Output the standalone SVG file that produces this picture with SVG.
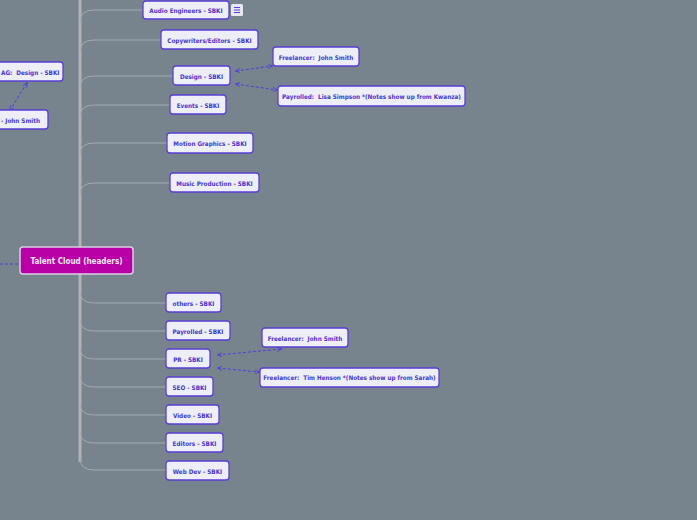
<svg xmlns="http://www.w3.org/2000/svg" width="697" height="520" viewBox="0 0 697 520">
<defs>
<style>
.n rect{fill:#eeeef6;stroke:#5a3fd6;stroke-width:1.3}
.n text{font-family:"DejaVu Sans Condensed","DejaVu Sans",sans-serif;font-stretch:condensed;font-size:6.3px;font-weight:bold;fill:#4736cc;text-anchor:middle;dominant-baseline:central;white-space:pre}
.br{fill:none;stroke:#a3abb1;stroke-width:1}
.tr{fill:none;stroke:#b3b3b3;stroke-width:3}
.d{fill:none;stroke:#4d3fe0;stroke-width:1;stroke-dasharray:3 2;marker-start:url(#a);marker-end:url(#a)}
</style>
<marker id="a" viewBox="0 0 6 6" refX="5" refY="3" markerWidth="5" markerHeight="5" orient="auto-start-reverse"><path d="M0,0.5 L6,3 L0,5.5" fill="none" stroke="#4d3fe0" stroke-width="1"/></marker>
</defs>
<rect width="697" height="520" fill="#77838d"/>
<g id="connectors">
<path class="tr" d="M80,0 V462"/>
<path class="br" d="M80,458 Q80,470 94,470 H166"/>
<path class="br" d="M80,22 Q80,10 94,10 H143"/>
<path class="br" d="M80,52 Q80,40 94,40 H161"/>
<path class="br" d="M80,88 Q80,76 94,76 H173"/>
<path class="br" d="M80,117 Q80,105 94,105 H170"/>
<path class="br" d="M80,155 Q80,143 94,143 H167"/>
<path class="br" d="M80,195 Q80,183 94,183 H170"/>
<path class="br" d="M80,291 Q80,303 94,303 H166"/>
<path class="br" d="M80,319 Q80,331 94,331 H166"/>
<path class="br" d="M80,347 Q80,359 94,359 H166"/>
<path class="br" d="M80,375 Q80,387 94,387 H166"/>
<path class="br" d="M80,403 Q80,415 94,415 H166"/>
<path class="br" d="M80,431 Q80,443 94,443 H166"/>
<path class="d" d="M236,71 L272,66"/>
<path class="d" d="M236,84 L277,90"/>
<path class="d" d="M218,355 L281,349"/>
<path class="d" d="M218,368 L259,372"/>
<path class="d" d="M27,83 L10,110"/>
<path class="d" style="marker-start:none;marker-end:none" d="M0,264 L20,264"/>
</g>
<g id="talent-cloud" class="n"><rect x="20" y="247" width="113" height="27" rx="3" style="fill:#b800a6;stroke:#d6d0e6;stroke-width:1.5"/><text x="76.5" y="261" style="fill:#f4e6f4;font-size:8px">Talent Cloud (headers)</text></g>
<g id="audio" class="n"><rect x="143" y="1" width="86" height="18" rx="3"/><text x="186" y="10">Audio Engineers - SBKI</text></g>
<g id="audio-icon"><rect x="231" y="4" width="12" height="12" rx="1.5" fill="#e6e8f2"/><path d="M234,7.5 H240 M234,10 H240 M234,12.5 H240" stroke="#5a3fd6" stroke-width="1"/></g>
<g id="copy" class="n"><rect x="161" y="30" width="97" height="19" rx="3"/><text x="209.5" y="40">Copywriters/Editors - SBKI</text></g>
<g id="design" class="n"><rect x="173" y="66" width="57" height="19" rx="3"/><text x="201.5" y="76">Design - SBKI</text></g>
<g id="events" class="n"><rect x="170" y="95" width="56" height="19" rx="3"/><text x="198" y="105">Events - SBKI</text></g>
<g id="motion" class="n"><rect x="167" y="133" width="86" height="20" rx="3"/><text x="210" y="143">Motion Graphics - SBKI</text></g>
<g id="music" class="n"><rect x="170" y="173" width="89" height="19" rx="3"/><text x="214.5" y="183">Music Production - SBKI</text></g>
<g id="others" class="n"><rect x="166" y="293" width="55" height="19" rx="3"/><text x="193.5" y="303">others - SBKI</text></g>
<g id="payrolled" class="n"><rect x="166" y="321" width="64" height="19" rx="3"/><text x="198" y="331">Payrolled - SBKI</text></g>
<g id="pr" class="n"><rect x="166" y="349" width="44" height="19" rx="3"/><text x="188" y="359">PR - SBKI</text></g>
<g id="seo" class="n"><rect x="166" y="377" width="47" height="19" rx="3"/><text x="189.5" y="387">SEO - SBKI</text></g>
<g id="video" class="n"><rect x="166" y="405" width="53" height="19" rx="3"/><text x="192.5" y="415">Video - SBKI</text></g>
<g id="editors" class="n"><rect x="166" y="433" width="57" height="19" rx="3"/><text x="194.5" y="443">Editors - SBKI</text></g>
<g id="webdev" class="n"><rect x="166" y="461" width="63" height="19" rx="3"/><text x="197.5" y="471">Web Dev - SBKI</text></g>
<g id="design-freelancer" class="n"><rect x="273" y="47" width="86" height="19" rx="3"/><text x="316" y="57">Freelancer:  John Smith</text></g>
<g id="design-payrolled" class="n"><rect x="278" y="86" width="187" height="20" rx="3"/><text x="371.5" y="96">Payrolled:  Lisa Simpson *(Notes show up from Kwanza)</text></g>
<g id="pr-freelancer" class="n"><rect x="262" y="328" width="86" height="19" rx="3"/><text x="305" y="338">Freelancer:  John Smith</text></g>
<g id="pr-tim" class="n"><rect x="260" y="368" width="179" height="19" rx="3"/><text x="349.5" y="377">Freelancer:  Tim Henson *(Notes show up from Sarah)</text></g>
<g id="tag-design" class="n"><rect x="-10" y="62" width="73" height="19" rx="3"/><text x="1" y="72" style="text-anchor:start">AG:  Design - SBKI</text></g>
<g id="tag-john" class="n"><rect x="-10" y="110" width="58" height="19" rx="3"/><text x="1" y="120" style="text-anchor:start">- John Smith</text></g>
</svg>
